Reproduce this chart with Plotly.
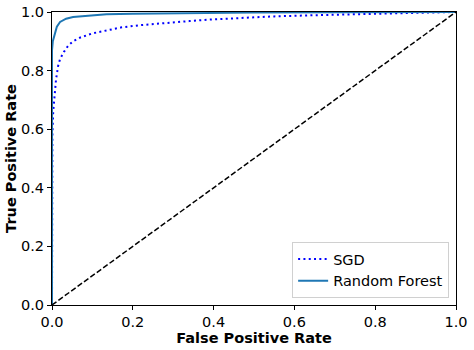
import plotly.graph_objects as go

sgd_fpr = [0.0, 0.0, 0.001, 0.003, 0.005, 0.0075, 0.01, 0.015, 0.02, 0.03, 0.04, 0.052, 0.07, 0.1, 0.135, 0.17, 0.217, 0.28, 0.34, 0.4, 0.464, 0.55, 0.65, 0.75, 0.85, 0.93, 1.0]
sgd_tpr = [0.0, 0.45, 0.58, 0.66, 0.70, 0.73, 0.77, 0.815, 0.84, 0.865, 0.885, 0.900, 0.913, 0.927, 0.938, 0.947, 0.955, 0.963, 0.969, 0.975, 0.980, 0.985, 0.989, 0.993, 0.996, 0.998, 1.0]

rf_fpr = [0.0, 0.0, 0.0, 0.002, 0.005, 0.007, 0.012, 0.02, 0.035, 0.052, 0.09, 0.135, 0.2, 0.3, 0.5, 0.7, 1.0]
rf_tpr = [0.0, 0.6, 0.87, 0.90, 0.915, 0.927, 0.950, 0.966, 0.977, 0.983, 0.988, 0.992, 0.994, 0.996, 0.998, 0.999, 1.0]

diag = [0.0, 1.0]

fig = go.Figure()
fig.add_trace(go.Scatter(x=sgd_fpr, y=sgd_tpr, mode="lines", name="SGD",
                         line=dict(color="#0000ff", width=2, dash="2px,3.3px")))
fig.add_trace(go.Scatter(x=rf_fpr, y=rf_tpr, mode="lines", name="Random Forest",
                         line=dict(color="#1f77b4", width=2)))
fig.add_trace(go.Scatter(x=diag, y=diag, mode="lines", showlegend=False,
                         line=dict(color="black", width=1.5, dash="5.5px,2.4px")))

axis_common = dict(range=[0, 1], dtick=0.2, tickformat=".1f", showgrid=False, zeroline=False,
                   showline=True, linecolor="black", linewidth=1, mirror=True,
                   ticks="outside", ticklen=4, tickcolor="black", automargin=False,
                   tickfont=dict(family="DejaVu Sans", size=14.5, color="black"))

fig.update_layout(
    width=474, height=350,
    margin=dict(l=52, r=18, t=12, b=45),
    plot_bgcolor="white", paper_bgcolor="white",
    xaxis=dict(**axis_common, title=dict(text="<b>False Positive Rate</b>", standoff=2,
               font=dict(family="DejaVu Sans", size=14.5, color="black"))),
    yaxis=dict(**axis_common, title=dict(text="<b>True Positive Rate</b>", standoff=0,
               font=dict(family="DejaVu Sans", size=14.5, color="black"))),
    legend=dict(x=0.983, y=0.024, xanchor="right", yanchor="bottom",
                bgcolor="white", bordercolor="#d0d0d0", borderwidth=1,
                font=dict(family="DejaVu Sans", size=14.5, color="black")),
)

fig.write_html("out.html")
